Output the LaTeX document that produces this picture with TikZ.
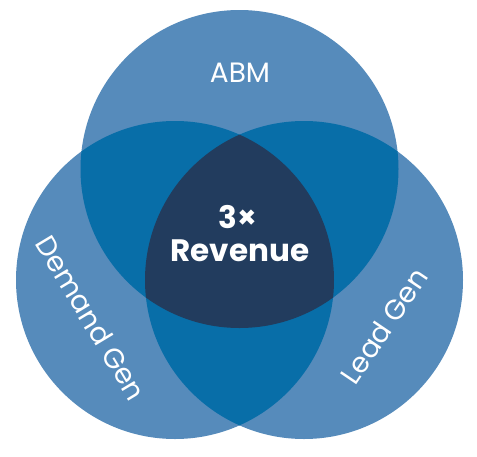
\documentclass[tikz,border=0pt]{standalone}
\usepackage{fontspec}
\setsansfont{Poppins}
\renewcommand{\familydefault}{\sfdefault}
\usetikzlibrary{positioning}
\definecolor{VennOuter}{RGB}{86,139,187}
\definecolor{VennPair}{RGB}{8,110,168}
\definecolor{VennCore}{RGB}{34,60,94}
\tikzset{
  venn ring/.style={fill=VennOuter, draw=none},
  venn pair/.style={fill=VennPair, draw=none},
  venn core/.style={fill=VennCore, draw=none},
  venn label/.style={text=white, font=\fontsize{28}{30}\selectfont, inner sep=0pt},
  venn title/.style={text=white, font=\fontsize{31}{34}\selectfont\bfseries, align=center, inner sep=0pt}
}
\begin{document}
\begin{tikzpicture}[x=1pt,y=-1pt]
\useasboundingbox (0,0) rectangle (477,456);
\coordinate (abm) at (239.5,169);
\coordinate (dem) at (175,280);
\coordinate (lead) at (304,280);
\def\vennr{159}
% single circles
\fill[venn ring] (abm) circle[radius=\vennr];
\fill[venn ring] (dem) circle[radius=\vennr];
\fill[venn ring] (lead) circle[radius=\vennr];
% pairwise overlaps
\begin{scope}
\clip (abm) circle[radius=\vennr];
\fill[venn pair] (dem) circle[radius=\vennr];
\fill[venn pair] (lead) circle[radius=\vennr];
\end{scope}
\begin{scope}
\clip (dem) circle[radius=\vennr];
\fill[venn pair] (lead) circle[radius=\vennr];
\end{scope}
% centre
\begin{scope}
\clip (abm) circle[radius=\vennr];
\clip (dem) circle[radius=\vennr];
\fill[venn core] (lead) circle[radius=\vennr];
\end{scope}
\node[venn label] (abmtxt) at (240,73) {ABM};
\node[venn label, rotate=-59] (demtxt) at (91,318) {Demand Gen};
\node[venn label, rotate=56] (leadtxt) at (384,326) {Lead Gen};
\node[venn title] (three) at (238,217) {3×};
\node[venn title] (rev) at (240,251) {Revenue};
\end{tikzpicture}
\end{document}
